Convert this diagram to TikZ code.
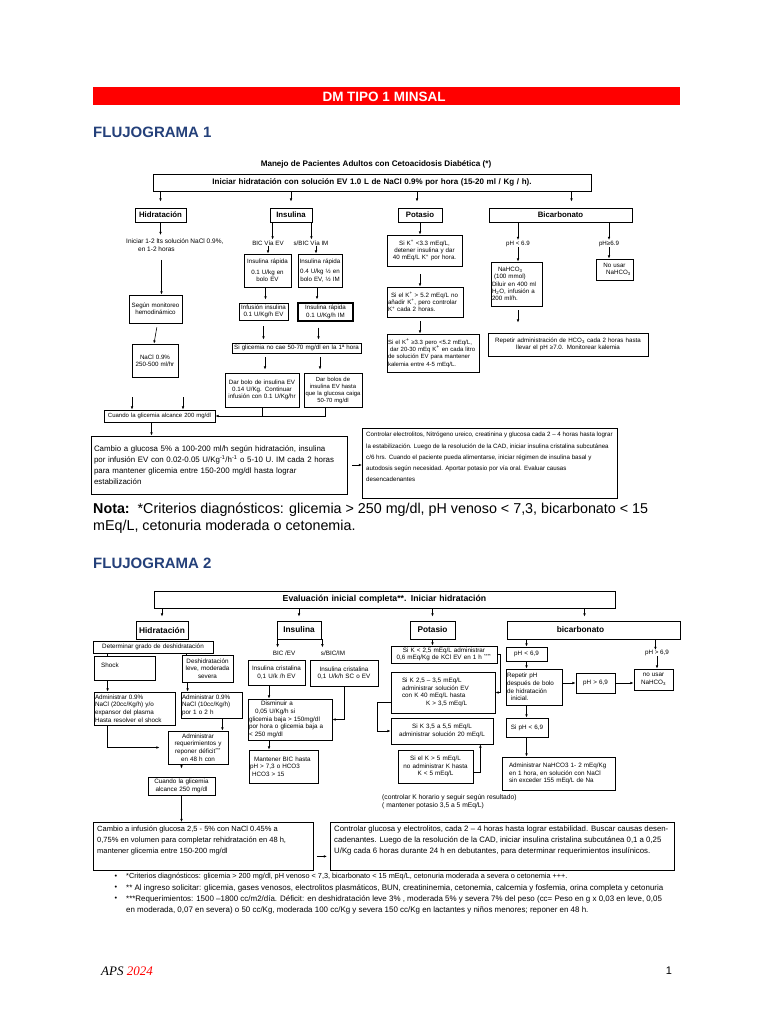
\documentclass[tikz,border=0pt]{standalone}
\usepackage{fontspec}
\setmainfont{Liberation Sans}
\newfontfamily\serifit{Liberation Serif}
\usetikzlibrary{arrows.meta,calc}
\definecolor{hblue}{RGB}{36,64,122}
\definecolor{hred}{RGB}{255,0,0}
\newcommand\szA{\fontsize{6.2}{7.3}\selectfont}
\newcommand\szB{\fontsize{6.1}{7.3}\selectfont}
\newcommand\szC{\fontsize{7.9}{11}\selectfont}
\newcommand\szD{\fontsize{6.2}{11.3}\selectfont}
\newcommand\szE{\fontsize{6.3}{7.6}\selectfont}
\newcommand\szF{\fontsize{7.5}{11}\selectfont}
\newcommand\szG{\fontsize{7.3}{8}\selectfont}
\newcommand\szH{\fontsize{7.95}{9}\selectfont}
\newcommand\catA{\fontsize{7.8}{9}\selectfont\bfseries}
\newcommand\catB{\fontsize{8.3}{10}\selectfont\bfseries}
% box from corners: [opts]{name}{x1}{y1}{x2}{y2}{text}
\newcommand\mybox[7][]{%
  \pgfmathsetmacro\bxW{#5-#3}\pgfmathsetmacro\bxH{#6-#4}\pgfmathsetmacro\bxT{#5-#3-2}%
  \pgfmathsetmacro\bxX{(#3+#5)/2}\pgfmathsetmacro\bxY{(#4+#6)/2}%
  \node[box,minimum width=\bxW pt,minimum height=\bxH pt,text width=\bxT pt,#1] (#2) at (\bxX,\bxY) {#7};}
% box with text at the top left
\newcommand\myboxt[7][]{%
  \pgfmathsetmacro\bxW{#5-#3}\pgfmathsetmacro\bxH{#6-#4}%
  \node[draw,line width=0.8pt,minimum width=\bxW pt,minimum height=\bxH pt,inner sep=0pt,anchor=north west] (#2) at (#3,#4) {};%
  \node[anchor=north west,align=left,inner sep=0pt,#1] (#2-t) at ($(#3,#4)+(4,4)$) {#7};}
\begin{document}
\begin{tikzpicture}[x=1pt,y=-1pt,
  box/.style={draw,line width=0.8pt,inner xsep=1pt,inner ysep=1pt,align=center,font=\szA},
  arr/.style={-{Latex[length=3.2pt,width=2.6pt]},line width=0.6pt},
  ln/.style={line width=0.6pt},
  lbl/.style={inner sep=0pt}]
\useasboundingbox (0,0) rectangle (768,1024);
\fill[white] (0,0) rectangle (768,1024);

% ---------- header ----------
\fill[hred] (93,87) rectangle (680,105);
\node[text=white,font=\fontsize{13.5}{15}\selectfont\bfseries] (hdr) at (384,96.5) {DM TIPO 1 MINSAL};
\node[anchor=west,inner sep=0pt,text=hblue,font=\fontsize{15}{17}\selectfont\bfseries] (fg1) at (93,132) {FLUJOGRAMA 1};

% ---------- FLUJOGRAMA 1 ----------
\node[font=\fontsize{8.1}{9}\selectfont\bfseries] (t1) at (376,164) {Manejo de Pacientes Adultos con Cetoacidosis Diabética (*)};
\mybox[font=\fontsize{8}{9}\selectfont\bfseries]{top1}{153}{174}{591}{191}{Iniciar hidratación con solución EV 1.0 L de NaCl  0.9\% por hora  (15-20 ml / Kg / h).}
\mybox[font=\catA]{hid1}{135}{208}{186}{222}{Hidratación}
\mybox[font=\catA]{ins1}{270}{208}{312}{222}{Insulina}
\mybox[font=\catA]{pot1}{398}{208}{442}{222}{Potasio}
\mybox[font=\catA]{bic1}{489}{208}{632}{222}{Bicarbonato}
\draw[arr,shorten >=6pt] (top1.south -| hid1) -- (hid1.north);
\draw[arr,shorten >=6pt] (top1.south -| ins1) -- (ins1.north);
\draw[arr,shorten >=6pt] ($(top1.south -| pot1)+(-3,0)$) -- ($(pot1.north)+(-3,0)$);
\draw[arr,shorten >=6pt] ($(top1.south -| bic1)+(11,0)$) -- ($(bic1.north)+(11,0)$);

% hidratacion
\node[lbl,font=\fontsize{6.5}{7.5}\selectfont,align=left,anchor=north west] (thid1) at (126,239) {Iniciar 1-2 lts solución NaCl  0.9\%,\\\hspace*{12pt}en 1-2 horas};
\draw[arr,shorten >=4pt] (hid1.south) -- (hid1.south |- thid1.north);
\mybox{mon1}{129}{295}{182}{323}{Según monitoreo\\hemodinámico}
\draw[arr,shorten <=8pt] ($(thid1.south -| mon1)+(6,0)$) -- ($(mon1.north)+(6,0)$);
\mybox{nacl1}{132}{344}{178}{377}{NaCl  0.9\%\\250-500 ml/hr}
\draw[arr,shorten <=4pt] ($(mon1.south)+(2,0)$) -- ($(nacl1.north)+(-1,0)$);
\mybox[font=\fontsize{6}{7}\selectfont]{cu1}{104}{410}{215}{422}{Cuando la glicemia alcance 200 mg/dl}
\coordinate (h1a) at (132,397);
\coordinate (h1b) at (183,397);
\draw[arr] (h1a) -- (h1a |- cu1.north);
\draw[arr] (h1b) -- (h1b |- cu1.north);
\mybox[font=\szC,align=left,inner xsep=3pt]{cam1}{93}{436}{345}{494}{Cambio  a  glucosa  5\%  a 100-200 ml/h según hidratación,  insulina\\por  infusión EV con 0.02-0.05  U/Kg\textsuperscript{-1}/h\textsuperscript{-1}  o   5-10 U. IM cada 2 horas\\para  mantener  glicemia entre 150-200 mg/dl hasta lograr\\estabilización}
\coordinate (c1a) at ($(cu1.south)+(-8,0)$);
\draw[arr] (c1a) -- (c1a |- cam1.north);
\myboxt[font=\szD]{ctl1}{362}{428}{617}{498}{Controlar electrolitos, Nitrógeno ureico, creatinina y glucosa cada 2 – 4 horas hasta lograr\\la estabilización. Luego de la resolución de la CAD, iniciar insulina cristalina subcutánea\\c/6 hrs. Cuando el paciente pueda alimentarse, iniciar régimen de insulina basal y\\autodosis según necesidad. Aportar potasio por vía oral. Evaluar causas\\desencadenantes}
\draw[arr,shorten <=5pt] (cam1.east) -- (cam1.east -| ctl1.west);

% insulina
\node[lbl,font=\szA] (bicev1) at (268,243) {BIC Vía EV};
\node[lbl,font=\szA] (sbic1) at (311,243) {s/BIC  Vía IM};
\draw[arr,shorten >=1pt] ([xshift=3pt]ins1.south west) -- ([xshift=3pt]ins1.south west |- bicev1.north);
\draw[arr,shorten >=1pt] ([xshift=-1pt]ins1.south east) -- ([xshift=-1pt]ins1.south east |- sbic1.north);
\mybox{ir1}{244}{254}{291}{287}{Insulina rápida\\[3pt]0.1 U/kg en\\bolo EV}
\mybox{ir2}{298}{254}{342}{287}{Insulina rápida\\[3pt]0.4 U/kg ½ en\\bolo EV, ½ IM}
\draw[arr] (bicev1.south) -- (bicev1.south |- ir1.north);
\draw[arr] ($(sbic1.south)+(5,0)$) -- ($(sbic1.south |- ir2.north)+(5,0)$);
\mybox{inf1}{239}{303}{288}{320}{Infusión insulina\\0.1 U/Kg/h EV}
\mybox[line width=1.1pt]{inf2}{298}{303}{353}{321}{Insulina rápida\\0.1 U/Kg/h IM}
\draw[arr,shorten >=3pt] ($(ir1.south)+(-2,0)$) -- ($(ir1.south |- inf1.north)+(-2,0)$);
\draw[arr,shorten >=3pt] ($(ir2.south)+(-3,0)$) -- ($(ir2.south |- inf2.north)+(-3,0)$);
\mybox{sg1}{232}{343}{361}{353}{Si glicemia no cae 50-70 mg/dl en la 1ª hora}
\draw[arr,shorten <=6pt,shorten >=3pt] (inf1.south) -- (inf1.south |- sg1.north);
\draw[arr,shorten <=6pt,shorten >=3pt] ($(inf2.south)+(-7,0)$) -- ($(inf2.south |- sg1.north)+(-7,0)$);
\mybox{dar1}{225}{373}{299}{407}{Dar bolo de insulina EV\\0.14 U/Kg.  Continuar\\infusión con 0.1 U/Kg/hr}
\mybox[font=\fontsize{5.9}{7}\selectfont]{dar2}{304}{373}{362}{407}{Dar bolos de\\insulina EV hasta\\que la glucosa caiga\\50-70 mg/dl}
\draw[arr,shorten <=4pt,shorten >=3pt] ($(sg1.south -| dar1)+(3,0)$) -- ($(dar1.north)+(3,0)$);
\draw[arr,shorten <=4pt,shorten >=3pt] ($(sg1.south -| dar2)+(-13,0)$) -- ($(dar2.north)+(-13,0)$);
\draw[ln] (dar1.south) -- (dar1.south |- cu1.east);
\draw[arr] ($(dar2.south)+(-8,0)$) |- (cu1.east);

% potasio
\mybox{k11}{387}{235}{462}{266}{Si K\textsuperscript{+} <3.3 mEq/L,\\detener insulina y dar\\40  mEq/L  K\textsuperscript{+}  por hora.}
\draw[arr] (pot1.south) -- (pot1.south |- k11.north);
\mybox[align=left]{k12}{387}{287}{463}{317}{\hspace*{3pt}Si el K\textsuperscript{+}  > 5.2 mEq/L  no\\añadir K\textsuperscript{+}, pero controlar\\K\textsuperscript{+} cada 2 horas.}
\draw[arr,shorten <=8pt] (pot1.south |- k11.south) -- (pot1.south |- k12.north);
\mybox[align=left,font=\fontsize{6}{7.3}\selectfont]{k13}{387}{334}{479}{372}{Si el K\textsuperscript{+} ≥3.3 pero <5.2 mEq/L,\\\hspace*{2pt}dar 20-30 mEq K\textsuperscript{+} en cada litro\\de solución  EV para mantener\\kalemia entre 4-5 mEq/L.}
\draw[arr,shorten <=4pt] (pot1.south |- k12.south) -- (pot1.south |- k13.north);

% bicarbonato
\node[lbl,font=\szA] (ph11) at (518,244) {pH < 6.9};
\node[lbl,font=\szA] (ph12) at (609,244) {pH≥6.9};
\draw[arr,shorten >=1pt] (bic1.south -| ph11) -- (ph11.north);
\draw[arr,shorten >=1pt] (bic1.south -| ph12) -- (ph12.north);
\mybox[align=left]{nah1}{491}{262}{542}{306}{\hspace*{6pt}NaHCO\textsubscript{3}\\\hspace*{2pt}(100 mmol)\\Diluir en 400 ml\\H\textsubscript{2}O, infusión a\\200 ml/h.}
\draw[arr] (ph11.south) -- (ph11.south |- nah1.north);
\mybox{rep1}{488}{333}{648}{356}{Repetir administración de HCO\textsubscript{3}  cada 2 horas  hasta\\llevar el pH ≥7.0.  Monitorear kalemia}
\draw[arr,shorten <=4pt,shorten >=10pt] (ph11 |- nah1.south) -- (ph11 |- rep1.north);
\mybox{nou1}{596}{259}{633}{280}{No usar\\\hspace*{8pt}NaHCO\textsubscript{3}}
\draw[arr] (ph12.south) -- (ph12.south |- nou1.north);

% ---------- Nota ----------
\node[anchor=west,inner sep=0pt,font=\fontsize{14.3}{16}\selectfont] (nota) at (93,510) {\textbf{Nota:}\ \ *Criterios diagnósticos: glicemia > 250 mg/dl, pH venoso < 7,3, bicarbonato < 15};
\node[anchor=west,inner sep=0pt,font=\fontsize{14.3}{16}\selectfont] (nota2) at (93,527) {mEq/L, cetonuria moderada o cetonemia.};

\node[anchor=west,inner sep=0pt,text=hblue,font=\fontsize{15}{17}\selectfont\bfseries] (fg2) at (93,563) {FLUJOGRAMA 2};

% ---------- FLUJOGRAMA 2 ----------
\mybox[font=\fontsize{8.7}{10}\selectfont\bfseries]{top2}{154}{591}{615}{608}{Evaluación inicial completa**.  Iniciar hidratación}
\mybox[font=\catB]{hid2}{136}{621}{188}{639}{Hidratación}
\mybox[font=\catB]{ins2}{277}{621}{321}{639}{Insulina}
\mybox[font=\catB]{pot2}{410}{621}{455}{639}{Potasio}
\mybox[font=\catB]{bic2}{507}{621}{680}{639}{\hspace*{-26pt}bicarbonato}
\draw[arr,shorten >=4pt] (top2.south -| hid2) -- (hid2.north);
\draw[arr,shorten >=4pt] (top2.south -| ins2) -- (ins2.north);
\draw[arr,shorten >=4pt] (top2.south -| pot2) -- (pot2.north);
\draw[arr,shorten >=4pt] ($(top2.south -| bic2)+(-9,0)$) -- ($(bic2.north)+(-9,0)$);

% hidratacion
\mybox[font=\szE]{det2}{93}{641}{213}{653}{Determinar grado de deshidratación}
\myboxt[font=\szE,xshift=3pt,yshift=-3pt]{shock}{94}{656}{155}{680}{Shock}
\mybox[font=\szE]{desh}{182}{655}{233}{682}{Deshidratación\\leve, moderada\\severa}
\coordinate (d2a) at ($(det2.south west)+(15,0)$);
\coordinate (d2b) at ($(det2.south west)+(94,0)$);
\draw[ln] (d2a) -- (d2a |- shock.north);
\draw[ln] (d2b) -- (d2b |- desh.north);
\mybox[font=\szE,align=left]{adm1}{94}{692}{175}{725}{Administrar 0.9\%\\NaCl (20cc/Kg/h) y/o\\expansor del plasma\\Hasta resolver el shock}
\mybox[font=\szE,align=left]{adm2}{181}{692}{242}{718}{Administrar 0.9\%\\NaCl (10cc/Kg/h)\\por 1 o 2  h}
\draw[arr] (d2a |- shock.south) -- (d2a |- adm1.north);
\draw[arr] ($(d2b |- desh.south)+(1,0)$) -- ($(d2b |- adm2.north)+(1,0)$);
\mybox[font=\szE]{req}{168}{731}{228}{764}{Administrar\\requerimientos y\\reponer déficit\textsuperscript{***}\\en 48 h con}
\draw[arr,shorten >=8pt] (d2a |- adm1.south) |- (req.west);
\coordinate (a2) at ($(adm2.south east)+(-20,0)$);
\draw[arr] (a2) -- (a2 |- req.north);
\mybox[font=\szE]{cu2}{148}{777}{215}{795}{Cuando la glicemia\\alcance 250 mg/dl}
\draw[arr,shorten >=8pt] (cu2.north |- req.south) -- (cu2.north);
\myboxt[font=\szF]{cam2}{93}{822}{313}{870}{Cambio  a  infusión glucosa  2,5 - 5\%  con  NaCl 0.45\% a\\0,75\% en volumen para completar rehidratación en 48 h,\\mantener  glicemia entre 150-200  mg/dl}
\draw[arr] (cu2.south) -- (cu2.south |- cam2.north);
\myboxt[font=\fontsize{7.8}{11}\selectfont]{ctl2}{330}{822}{674}{870}{Controlar glucosa y electrolitos, cada 2 – 4 horas hasta lograr estabilidad. Buscar causas desen-\\cadenantes.  Luego de la resolución de la CAD, iniciar insulina cristalina subcutánea  0,1 a 0,25\\U/Kg  cada 6 horas durante 24 h en debutantes, para determinar requerimientos insulínicos.}
\draw[arr,shorten <=3pt,shorten >=3pt] ([yshift=-10pt]cam2.east) -- ([yshift=-10pt]cam2.east -| ctl2.west);

% insulina
\node[lbl,font=\szE] (bic2ev) at (284,653) {BIC /EV};
\node[lbl,font=\szE] (sbic2) at (333,653) {s/BIC/IM};
\draw[arr] ([xshift=1pt]ins2.south west) -- ([xshift=1pt,yshift=-8pt]ins2.south west);
\draw[arr] ([xshift=1pt]ins2.south east) -- ([xshift=1pt,yshift=-8pt]ins2.south east);
\mybox[font=\szE]{ic1}{248}{660}{305}{685}{Insulina cristalina\\0,1 U/k /h  EV}
\mybox[font=\szE]{ic2}{310}{660}{378}{686}{Insulina cristalina\\0,1 U/k/h SC o EV}
\mybox[font=\szE,align=left]{dism}{248}{699}{332}{740}{\hspace*{12pt}Disminuir a\\\hspace*{6pt}0,05 U/Kg/h si\\glicemia baja > 150mg/dl\\por hora o glicemia baja a\\< 250 mg/dl}
\coordinate (i1) at ($(ic1.south)+(-7.5,0)$);
\draw[arr] (i1) -- (i1 |- dism.north);
\draw[arr] (ic2.south) |- (dism.east);
\mybox[font=\szE,align=left]{mant}{249}{750}{318}{783}{\hspace*{4pt}Mantener BIC hasta\\pH > 7,3 o  HCO3\\\hspace*{2pt}HCO3 > 15}
\draw[arr] (i1 |- dism.south) -- (i1 |- mant.north);

% potasio
\mybox[font=\szE]{k21}{391}{646}{497}{663}{Si K < 2,5 mEq/L  administrar\\0,6 mEq/Kg de KCl  EV en 1 h \textsuperscript{****}}
\draw[arr] (pot2.south) -- (pot2.south |- k21.north);
\mybox[font=\szE,align=left]{k22}{391}{672}{495}{713}{\hspace*{10pt}Si K  2,5 – 3,5 mEq/L\\\hspace*{10pt}administrar solución EV\\\hspace*{10pt}con K 40 mEq/L  hasta\\\hspace*{34pt}K > 3,5 mEq/L}
\draw[arr] (k21.east) -- ++(3,0) |- (k22.east);
\mybox[font=\szE]{k23}{391}{718}{493}{744}{Si K  3,5 a 5,5 mEq/L\\administrar  solución 20 mEq/L}
\draw[arr] ([yshift=-10pt]k22.west) -- ++(-13,0) |- (k23.west);
\mybox[font=\szE]{k24}{398}{750}{473}{783}{Si  el K > 5 mEq/L\\no administrar K hasta\\K < 5 mEq/L}
\draw[arr] ([yshift=-6pt]k24.east) -| ([xshift=-13pt]k23.south east);
\node[anchor=west,inner sep=0pt,font=\fontsize{6.7}{8}\selectfont] (ctlk) at (382,798) {(controlar  K horario y seguir según resultado)};
\node[anchor=west,inner sep=0pt,font=\fontsize{6.7}{8}\selectfont] (mank) at (382,806) {( mantener potasio 3,5 a 5 mEq/L)};

% bicarbonato
\mybox[font=\szE]{ph21}{506}{647}{547}{661}{pH < 6,9}
\draw[arr] (bic2.south -| ph21) -- (ph21.north);
\mybox[font=\szE,align=left]{rep2}{506}{669}{562}{705}{Repetir pH\\después de bolo\\de hidratación\\\hspace*{4pt}inicial.}
\draw[arr] (ph21.south) -- (ph21.south |- rep2.north);
\mybox[font=\szE]{ph22}{576}{673}{615}{693}{pH > 6,9}
\draw[arr] (rep2.east |- ph22.west) -- (ph22.west);
\mybox[font=\szE]{nou2}{634}{669}{673}{690}{no  usar\\NaHCO\textsubscript{3}}
\draw[arr] (ph22.east) -- (ph22.east -| nou2.west);
\node[lbl,font=\szE] (ph23) at (657,653) {pH > 6,9};
\coordinate (b2r) at ($(bic2.south east)+(-25,0)$);
\draw[arr] (b2r) -- (b2r |- ph23.north);
\draw[arr] (ph23.south) -- (ph23.south |- nou2.north);
\mybox[font=\szE]{sph}{506}{718}{548}{737}{Si pH  < 6,9}
\draw[arr] (ph21.south |- rep2.south) -- (ph21.south |- sph.north);
\mybox[font=\szE,align=left]{admn}{502}{757}{615}{790}{\hspace*{6pt}Administrar NaHCO3 1- 2 mEq/Kg\\\hspace*{6pt}en 1 hora, en solución con NaCl\\\hspace*{6pt}sin exceder 155 mEq/L de Na}
\draw[arr] (ph21.south |- sph.south) -- (ph21.south |- admn.north);

% ---------- footnotes ----------
\node[font=\szG] (bu1) at (116,877) {•};
\node[font=\szG] (bu2) at (116,888) {•};
\node[font=\szG] (bu3) at (116,899) {•};
\node[anchor=west,inner sep=0pt,font=\szG] (fn1) at (126,877) {*Criterios diagnósticos: glicemia > 200 mg/dl, pH venoso < 7,3, bicarbonato < 15 mEq/L, cetonuria moderada a severa o cetonemia +++.};
\node[anchor=west,inner sep=0pt,font=\szH] (fn2) at (126,888) {** Al ingreso solicitar: glicemia, gases venosos, electrolitos plasmáticos, BUN, creatininemia, cetonemia, calcemia y fosfemia,  orina completa y cetonuria};
\node[anchor=west,inner sep=0pt,font=\szH] (fn3) at (126,899) {***Requerimientos: 1500 –1800 cc/m2/día. Déficit: en deshidratación leve 3\% , moderada 5\% y severa 7\% del peso (cc= Peso en g x  0,03 en leve, 0,05};
\node[anchor=west,inner sep=0pt,font=\szH] (fn4) at (126,910) {en moderada, 0,07 en severa)  o 50 cc/Kg, moderada 100 cc/Kg y severa 150 cc/Kg en lactantes y niños menores; reponer en 48 h.};

% ---------- footer ----------
\node[anchor=west,inner sep=0pt,font=\serifit\itshape\fontsize{13}{15}\selectfont] (aps) at (101,971) {APS \textcolor{hred}{2024}};
\node[inner sep=0pt,font=\fontsize{11}{13}\selectfont] (pg) at (669,971) {1};
\end{tikzpicture}
\end{document}
